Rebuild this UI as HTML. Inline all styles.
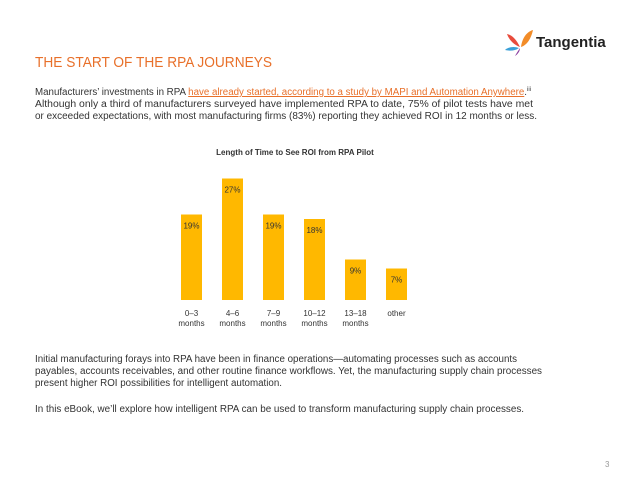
<!DOCTYPE html>
<html><head><meta charset="utf-8"><style>
body{margin:0;background:#fff;}
svg text{font-family:"Liberation Sans",sans-serif;}
</style></head><body>
<svg width="638" height="493" viewBox="0 0 638 493">
<g>
<path d="M520 47 C516 39 512 35 507 34 C509 40 514 45 520 47Z" fill="#e84b3c"/>
<path d="M521 47 C522 39 526 32 533 30 C531 39 527 45 521 47Z" fill="#f28c28"/>
<path d="M519 48 C514 46 508 47 505 50 C510 51 515 51 519 48Z" fill="#3aa0d8"/>
<path d="M520 48 C518 51 516 54 515 56 C518 54 520 51 520 48Z" fill="#8b3fa0"/>
<text x="536" y="47" font-size="15" font-weight="bold" fill="#222">Tangentia</text>
</g>
<text x="35" y="67" font-size="14.5" fill="#e8702a" textLength="237" lengthAdjust="spacingAndGlyphs">THE START OF THE RPA JOURNEYS</text>
<g font-size="10" fill="#333">
<text x="35" y="95"><tspan textLength="492" lengthAdjust="spacingAndGlyphs">Manufacturers’ investments in RPA <tspan fill="#e8702a" text-decoration="underline">have already started, according to a study by MAPI and Automation Anywhere</tspan>.</tspan><tspan font-size="6" dy="-4">iii</tspan></text>
<text x="35" y="107" textLength="498" lengthAdjust="spacingAndGlyphs">Although only a third of manufacturers surveyed have implemented RPA to date, 75% of pilot tests have met</text>
<text x="35" y="119" textLength="502" lengthAdjust="spacingAndGlyphs">or exceeded expectations, with most manufacturing firms (83%) reporting they achieved ROI in 12 months or less.</text>
</g>
<text x="295" y="155" font-size="8" font-weight="bold" fill="#333" text-anchor="middle">Length of Time to See ROI from RPA Pilot</text>
<g id="chart"></g>
<g font-size="10" fill="#333">
<text x="35" y="362" textLength="482" lengthAdjust="spacingAndGlyphs">Initial manufacturing forays into RPA have been in finance operations—automating processes such as accounts</text>
<text x="35" y="374" textLength="507" lengthAdjust="spacingAndGlyphs">payables, accounts receivables, and other routine finance workflows. Yet, the manufacturing supply chain processes</text>
<text x="35" y="386" textLength="247" lengthAdjust="spacingAndGlyphs">present higher ROI possibilities for intelligent automation.</text>
<text x="35" y="412" textLength="489" lengthAdjust="spacingAndGlyphs">In this eBook, we’ll explore how intelligent RPA can be used to transform manufacturing supply chain processes.</text>
</g>
<text x="605" y="467" font-size="8" fill="#999">3</text>
</svg>
<script>
const categories=["0–3|months","4–6|months","7–9|months","10–12|months","13–18|months","other"];
const values=[19,27,19,18,9,7];
const labels=["19%","27%","19%","18%","9%","7%"];
const ns="http://www.w3.org/2000/svg";
const g=document.getElementById('chart');
const base=300,scale=4.5,x0=191.5,step=41,bw=21;
function xPos(i){return x0+i*step;}
function yPos(v){return base-v*scale;}
values.forEach((v,i)=>{
  const r=document.createElementNS(ns,'rect');
  r.setAttribute('x',xPos(i)-bw/2);r.setAttribute('y',yPos(v));
  r.setAttribute('width',bw);r.setAttribute('height',base-yPos(v));
  r.setAttribute('fill','#ffb800');
  
  
  g.appendChild(r);
  const t=document.createElementNS(ns,'text');
  t.setAttribute('x',xPos(i));t.setAttribute('y',yPos(v)+14);
  t.setAttribute('text-anchor','middle');t.setAttribute('font-size','8');t.setAttribute('fill','#333');
  t.textContent=labels[i];
  
  
  g.appendChild(t);
  categories[i].split('|').forEach((s,j)=>{
    const c=document.createElementNS(ns,'text');
    c.setAttribute('x',xPos(i));c.setAttribute('y',316+j*10);
    c.setAttribute('text-anchor','middle');c.setAttribute('font-size','8');c.setAttribute('fill','#333');
    c.textContent=s;
    
    
    g.appendChild(c);
  });
});
</script>
</body></html>
